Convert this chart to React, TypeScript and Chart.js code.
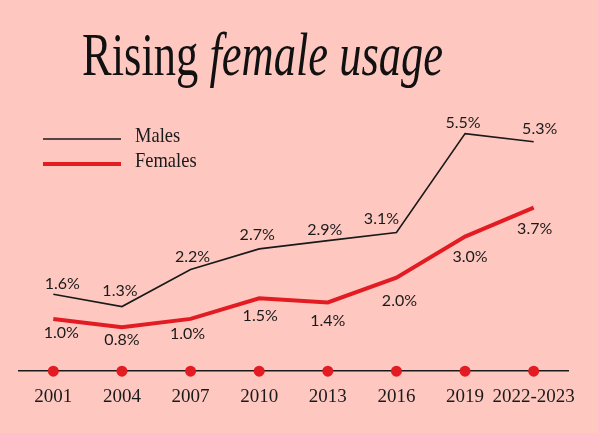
import React, { useEffect, useRef } from "react";
import { Chart, registerables } from "chart.js";

Chart.register(...registerables);

// Survey years and usage shares (%)
const years = ["2001", "2004", "2007", "2010", "2013", "2016", "2019", "2022-2023"];
const males = [1.6, 1.3, 2.2, 2.7, 2.9, 3.1, 5.5, 5.3];
const females = [1.0, 0.8, 1.0, 1.5, 1.4, 2.0, 3.0, 3.7];

// Nudges for the value labels, in pixels from each point
const maleLabelOffsets = [[9, -10], [-2, -16], [2, -13], [-2, -14], [-3, -11], [-15, -14], [-2, -11], [6, -13]];
const femaleLabelOffsets = [[8, 14], [0, 13], [-3, 15], [1, 18], [0, 18], [3, 23], [5, 20], [1, 21]];

const BG = "#FEC8C1";
const RED = "#E31B23";
const INK = "#1a1a1a";
const SERIF = '"Liberation Serif", "Times New Roman", serif';

const backgroundPlugin = {
  id: "pageBackground",
  beforeDraw(chart: any) {
    const { ctx, width, height } = chart;
    ctx.save();
    ctx.fillStyle = BG;
    ctx.fillRect(0, 0, width, height);
    ctx.restore();
  },
};

// Headline with an italic tail, set in a condensed serif
const headlinePlugin = {
  id: "headline",
  afterDraw(chart: any) {
    const { ctx } = chart;
    const plain = "Rising ";
    const slanted = "female usage";
    ctx.save();
    ctx.fillStyle = "#111";
    ctx.textBaseline = "alphabetic";
    ctx.textAlign = "left";
    ctx.font = `62px ${SERIF}`;
    const w1 = ctx.measureText(plain).width;
    ctx.font = `italic 62px ${SERIF}`;
    const w2 = ctx.measureText(slanted).width;
    const sx = 361 / (w1 + w2);
    ctx.translate(82, 75);
    ctx.scale(sx, 1);
    ctx.font = `62px ${SERIF}`;
    ctx.fillText(plain, 0, 0);
    ctx.font = `italic 62px ${SERIF}`;
    ctx.fillText(slanted, w1, 0);
    ctx.restore();
  },
};

// Legend: line sample plus series name, one row per dataset
const legendPlugin = {
  id: "lineLegend",
  afterDraw(chart: any) {
    const { ctx } = chart;
    const rows = [139, 164];
    ctx.save();
    chart.data.datasets.forEach((ds: any, i: number) => {
      const y = rows[i];
      ctx.strokeStyle = ds.borderColor;
      ctx.lineWidth = ds.borderWidth;
      ctx.lineCap = "butt";
      ctx.beginPath();
      ctx.moveTo(43, y);
      ctx.lineTo(121, y);
      ctx.stroke();
      ctx.save();
      ctx.translate(135, y + 2.5);
      ctx.scale(0.88, 1);
      ctx.fillStyle = INK;
      ctx.font = `21px ${SERIF}`;
      ctx.textBaseline = "alphabetic";
      ctx.textAlign = "left";
      ctx.fillText(ds.label, 0, 0);
      ctx.restore();
    });
    ctx.restore();
  },
};

// Value labels next to each point
const valueLabelPlugin = {
  id: "valueLabels",
  afterDatasetsDraw(chart: any) {
    const { ctx } = chart;
    const offsets = [maleLabelOffsets, femaleLabelOffsets];
    ctx.save();
    ctx.fillStyle = INK;
    ctx.font = '16px Lato, "Noto Sans", sans-serif';
    ctx.textAlign = "center";
    ctx.textBaseline = "middle";
    chart.data.datasets.forEach((ds: any, di: number) => {
      const meta = chart.getDatasetMeta(di);
      meta.data.forEach((pt: any, i: number) => {
        const [dx, dy] = offsets[di][i];
        ctx.fillText(`${ds.data[i].toFixed(1)}%`, pt.x + dx, pt.y + dy);
      });
    });
    ctx.restore();
  },
};

// Red markers sitting on the time axis at every category
const axisDotsPlugin = {
  id: "axisDots",
  afterDraw(chart: any) {
    const { ctx, chartArea } = chart;
    const x = chart.scales.x;
    ctx.save();
    ctx.fillStyle = RED;
    x.ticks.forEach((_t: any, i: number) => {
      ctx.beginPath();
      ctx.arc(x.getPixelForTick(i), chartArea.bottom, 5.5, 0, Math.PI * 2);
      ctx.fill();
    });
    ctx.restore();
  },
};

export default function App() {
  const canvasRef = useRef<HTMLCanvasElement | null>(null);

  useEffect(() => {
    if (!canvasRef.current) return;
    const chart = new Chart(canvasRef.current, {
      type: "line",
      data: {
        labels: years,
        datasets: [
          {
            label: "Males",
            data: males,
            borderColor: INK,
            borderWidth: 1.6,
            pointRadius: 0,
            tension: 0,
            fill: false,
          },
          {
            label: "Females",
            data: females,
            borderColor: RED,
            borderWidth: 4,
            pointRadius: 0,
            tension: 0,
            fill: false,
          },
        ],
      },
      options: {
        responsive: false,
        animation: false,
        layout: { padding: { top: 120, left: 19, right: 30, bottom: 11 } },
        plugins: {
          legend: { display: false },
          title: { display: false },
          tooltip: { enabled: false },
        },
        scales: {
          x: {
            type: "category",
            offset: true,
            grid: { display: false, drawTicks: false },
            border: { display: true, color: INK, width: 1.6 },
            ticks: {
              color: INK,
              font: { family: SERIF, size: 19 },
              padding: 14,
              maxRotation: 0,
              autoSkip: false,
            },
          },
          y: {
            display: false,
            min: -0.27,
            max: 5.83,
          },
        },
      },
      plugins: [backgroundPlugin, valueLabelPlugin, axisDotsPlugin, headlinePlugin, legendPlugin],
    });
    return () => chart.destroy();
  }, []);

  return (
    <div style={{ position: "fixed", left: 0, top: 0, width: 598, height: 433, background: BG }}>
      <canvas ref={canvasRef} width={598} height={433} style={{ display: "block" }} />
    </div>
  );
}
